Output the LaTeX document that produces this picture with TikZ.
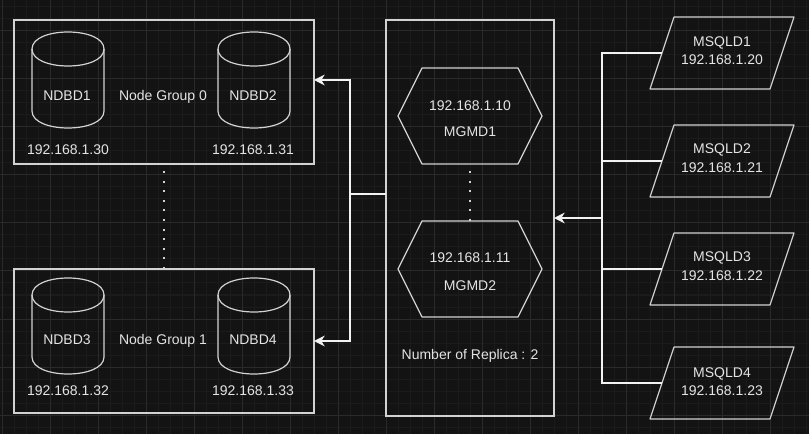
\documentclass[tikz,border=0pt]{standalone}
\usepackage{fontspec}
\setmainfont{Liberation Sans}
\usetikzlibrary{arrows.meta,calc}
\definecolor{bgc}{HTML}{131313}
\definecolor{gridmaj}{HTML}{2A2A2A}
\definecolor{gridmin}{HTML}{1B1B1B}
\definecolor{strk}{HTML}{D2D2D2}
\definecolor{txtc}{HTML}{E4E4E4}
\definecolor{connc}{HTML}{F2F2F2}
\newcommand\dbcyl[1]{%
  \draw[shp] ($(#1.north west)+(0,17)$) .. controls ($(#1.north west)+(0,-5.67)$) and ($(#1.north east)+(0,-5.67)$) .. ($(#1.north east)+(0,17)$)
    -- ($(#1.south east)+(0,-17)$) .. controls ($(#1.south east)+(0,5.67)$) and ($(#1.south west)+(0,5.67)$) .. ($(#1.south west)+(0,-17)$) -- cycle;
  \draw[shp] ($(#1.north west)+(0,17)$) .. controls ($(#1.north west)+(0,39.67)$) and ($(#1.north east)+(0,39.67)$) .. ($(#1.north east)+(0,17)$);
}
\newcommand\hexa[1]{%
  \draw[shp] (#1.west) -- ($(#1.north west)+(24,0)$) -- ($(#1.north east)+(-24,0)$) -- (#1.east)
    -- ($(#1.south east)+(-24,0)$) -- ($(#1.south west)+(24,0)$) -- cycle;
}
\newcommand\parall[1]{%
  \draw[shp] ($(#1.north west)+(12,0)$) -- ($(#1.north east)+(12,0)$) -- ($(#1.south east)+(-12,0)$) -- ($(#1.south west)+(-12,0)$) -- cycle;
}
\begin{document}
\begin{tikzpicture}[x=0.75pt,y=-0.75pt,
  lbl/.style={inner sep=0pt, anchor=base, text=txtc, font=\fontsize{10.5pt}{12.6pt}\selectfont},
  frame/.style={inner sep=0pt, outer sep=0pt, rectangle},
  box/.style={frame, draw=strk, line width=0.9pt},
  shp/.style={draw=strk, line width=0.9pt, line join=round},
  cylbox/.style={frame, minimum width=54pt, minimum height=72pt},
  hexbox/.style={frame, minimum width=108pt, minimum height=72pt},
  parbox/.style={frame, minimum width=90pt, minimum height=54pt},
  conn/.style={draw=connc, line width=1.1pt},
  arr/.style={-{Stealth[length=8pt,width=8pt,inset=2.5pt]}},
  dots/.style={draw=strk, line width=1.5pt, dash pattern=on 1.5pt off 5.7pt, dash phase=1.95pt}
]
\useasboundingbox (0,0) rectangle (809,434);
\fill[bgc] (0,0) rectangle (809,434);
\foreach \x in {2,14,...,806} \draw[gridmin, line width=0.75pt] (\x,0) -- (\x,434);
\foreach \y in {7,19,...,431} \draw[gridmin, line width=0.75pt] (0,\y) -- (809,\y);
\foreach \x in {2,50,...,800} \draw[gridmaj, line width=0.75pt] (\x,0) -- (\x,434);
\foreach \y in {31,79,...,431} \draw[gridmaj, line width=0.75pt] (0,\y) -- (809,\y);

% group boxes
\node[box, minimum width=225pt, minimum height=108pt] (grp0) at (164,92) {};
\node[box, minimum width=225pt, minimum height=108pt] (grp1) at (164,341) {};
% central box
\node[box, minimum width=126pt, minimum height=297pt] (ctr) at (470,218) {};

% cylinders
\node[cylbox] (c1) at (68,80) {};
\node[cylbox] (c2) at (254,80) {};
\node[cylbox] (c3) at (68,326) {};
\node[cylbox] (c4) at (254,326) {};
\dbcyl{c1}\dbcyl{c2}\dbcyl{c3}\dbcyl{c4}

% hexagons
\node[hexbox] (mgmd1) at (470,116) {};
\node[hexbox] (mgmd2) at (470,269) {};
\hexa{mgmd1}\hexa{mgmd2}

% parallelograms
\node[parbox] (sq1) at (722,53) {};
\node[parbox] (sq2) at (722,161) {};
\node[parbox] (sq3) at (722,269) {};
\node[parbox] (sq4) at (722,383) {};
\parall{sq1}\parall{sq2}\parall{sq3}\parall{sq4}

% texts
\node[lbl] (t1) at (67,101) {NDBD1};
\node[lbl] (t2) at (163,101) {Node Group 0};
\node[lbl] (t3) at (253,101) {NDBD2};
\node[lbl] (t4) at (68,155) {192.168.1.30};
\node[lbl] (t5) at (253,155) {192.168.1.31};
\node[lbl] (t6) at (67,344) {NDBD3};
\node[lbl] (t7) at (163,344) {Node Group 1};
\node[lbl] (t8) at (253,344) {NDBD4};
\node[lbl] (t9) at (68,395) {192.168.1.32};
\node[lbl] (t10) at (253,395) {192.168.1.33};
\node[lbl] (t11) at (470,111) {192.168.1.10};
\node[lbl] (t12) at (470,137) {MGMD1};
\node[lbl] (t13) at (470,263) {192.168.1.11};
\node[lbl] (t14) at (470,291) {MGMD2};
\node[lbl] (t15) at (470,359) {Number of Replica : 2};
\node[lbl] (t16) at (722,47) {MSQLD1};
\node[lbl] (t17) at (722,65) {192.168.1.20};
\node[lbl] (t18) at (722,154) {MSQLD2};
\node[lbl] (t19) at (722,173) {192.168.1.21};
\node[lbl] (t20) at (722,262) {MSQLD3};
\node[lbl] (t21) at (722,281) {192.168.1.22};
\node[lbl] (t22) at (722,377) {MSQLD4};
\node[lbl] (t23) at (722,395) {192.168.1.23};

% dotted links
\draw[dots] (grp0.south) -- (grp1.north);
\draw[dots] (mgmd1.south) -- (mgmd2.north);

% connectors left
\coordinate (jL) at (350,194);
\draw[conn] ($(ctr.west)+(0,-24)$) -- (jL);
\draw[conn,arr] (jL) |- ($(grp0.east)+(0,-12)$);
\draw[conn,arr] (jL) |- (grp1.east);

% connectors right
\coordinate (jR) at (602,218);
\draw[conn] (sq1.west) -| (jR);
\draw[conn] (sq2.west) -| (jR);
\draw[conn] (sq3.west) -| (jR);
\draw[conn] (sq4.west) -| (jR);
\draw[conn,arr] (jR) -- (ctr.east);
\end{tikzpicture}
\end{document}
